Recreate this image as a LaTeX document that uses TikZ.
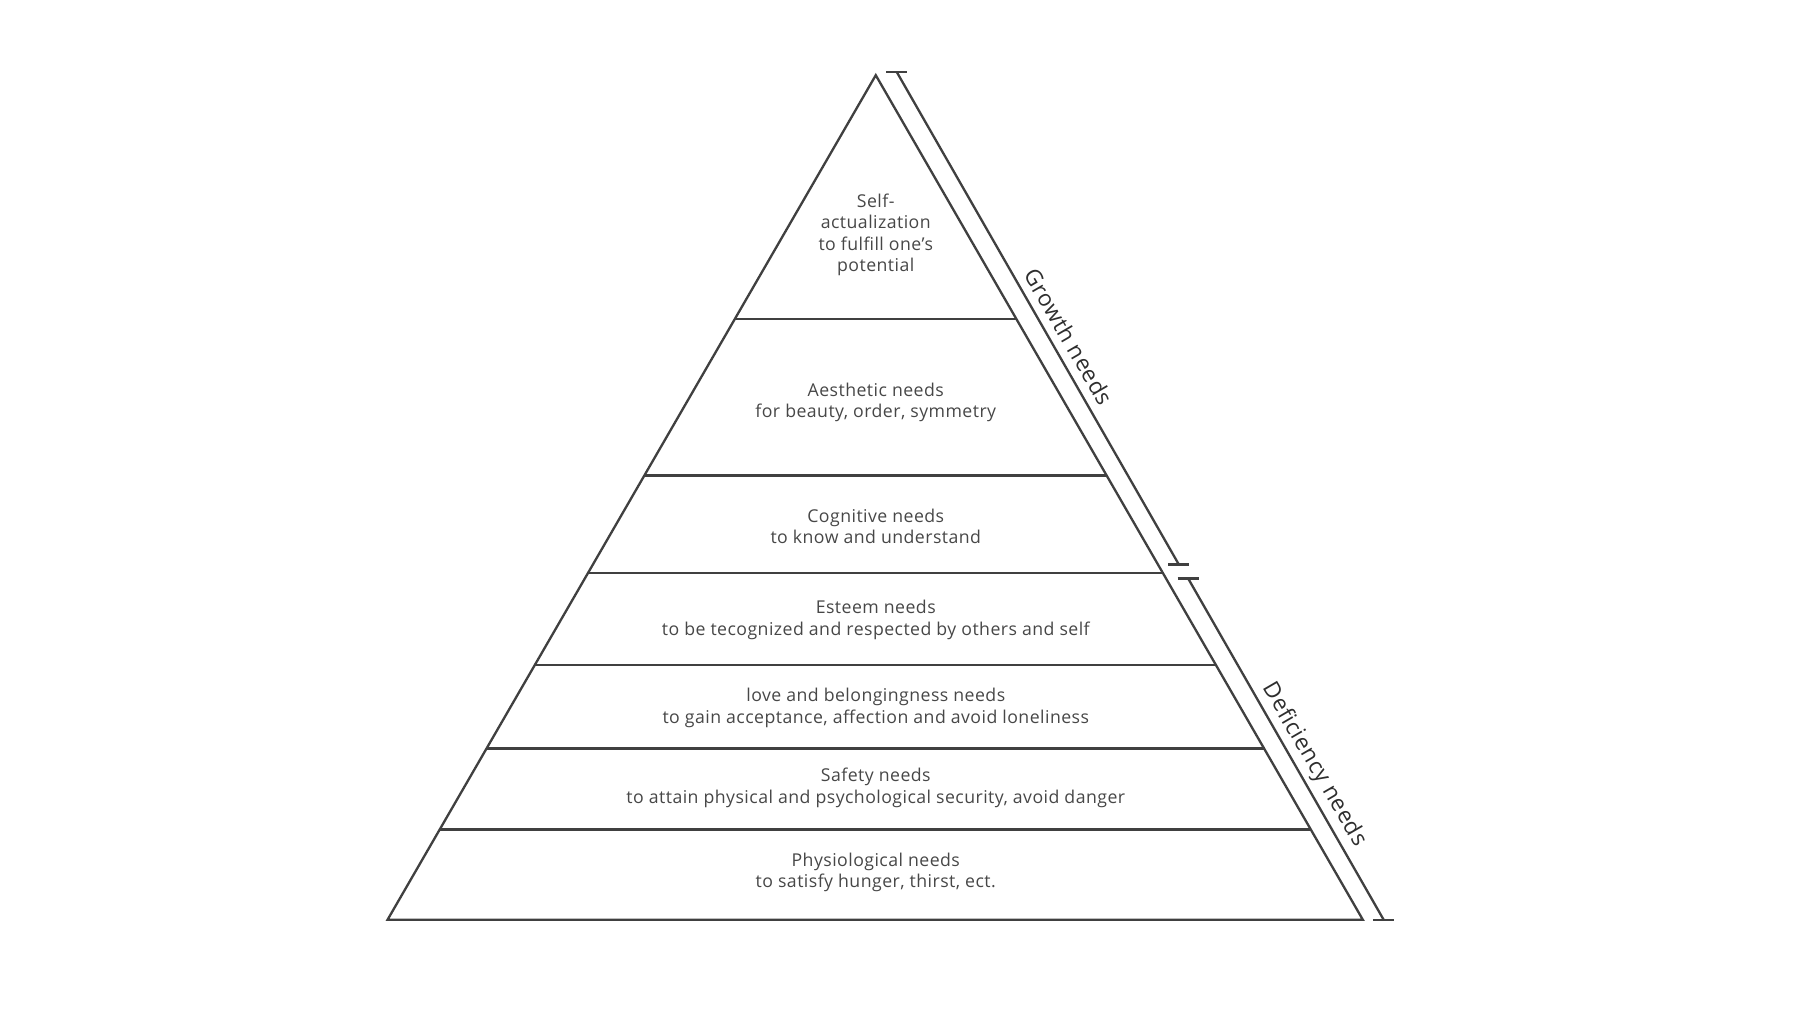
\documentclass[tikz,border=0pt]{standalone}
\usepackage{fontspec}
\setmainfont{Open Sans}[LetterSpace=2.5]
\begin{document}
\begin{tikzpicture}[x=1pt,y=-1pt,
  ln/.style={line width=2pt,draw=black!75},
  lbl/.style={align=center,font=\fontsize{15.3}{18.5}\selectfont,text=black!72},
  side/.style={font=\fontsize{19.5}{22}\selectfont,text=black!82,rotate=-59.8}]
\useasboundingbox (0,0) rectangle (1568,885);
\coordinate (A) at (757,65);
\coordinate (L) at (335,795);
\coordinate (R) at (1178,795);
\draw[ln] (L) -- (A) -- (R) -- cycle;
\foreach \y in {276,411,495,575,647,717}{
  \pgfmathsetmacro{\h}{(\y-65)/730*421.5}
  \draw[ln] (757-\h,\y) -- (757+\h,\y);
}
\node[lbl] (s) at (757,203) {Self-\\actualization\\to fulfill one’s\\potential};
\node[lbl] (a) at (757,348) {Aesthetic needs\\for beauty, order, symmetry};
\node[lbl] (c) at (757,455) {Cognitive needs\\to know and understand};
\node[lbl] (e) at (757,536) {Esteem needs\\to be tecognized and respected by others and self};
\node[lbl] (l) at (757,612) {love and belongingness needs\\to gain acceptance, affection and avoid loneliness};
\node[lbl] (f) at (757,681) {Safety needs\\to attain physical and psychological security, avoid danger};
\node[lbl] (p) at (757,754) {Physiological needs\\to satisfy hunger, thirst, ect.};
% brackets
\coordinate (g1) at (775,62);
\coordinate (g2) at (1019,488);
\coordinate (d1) at (1027,500);
\coordinate (d2) at (1196,795);
\draw[ln] (g1) -- (g2);
\draw[ln] (d1) -- (d2);
\draw[ln] (766,62) -- (784,62);
\draw[ln] (1010,488) -- (1028,488);
\draw[ln] (1018,500) -- (1036,500);
\draw[ln] (1187,795) -- (1205,795);
\node[side] (gn) at (924,291) {Growth needs};
\node[side] (dn) at (1136,661) {Deficiency needs};
\end{tikzpicture}
\end{document}
